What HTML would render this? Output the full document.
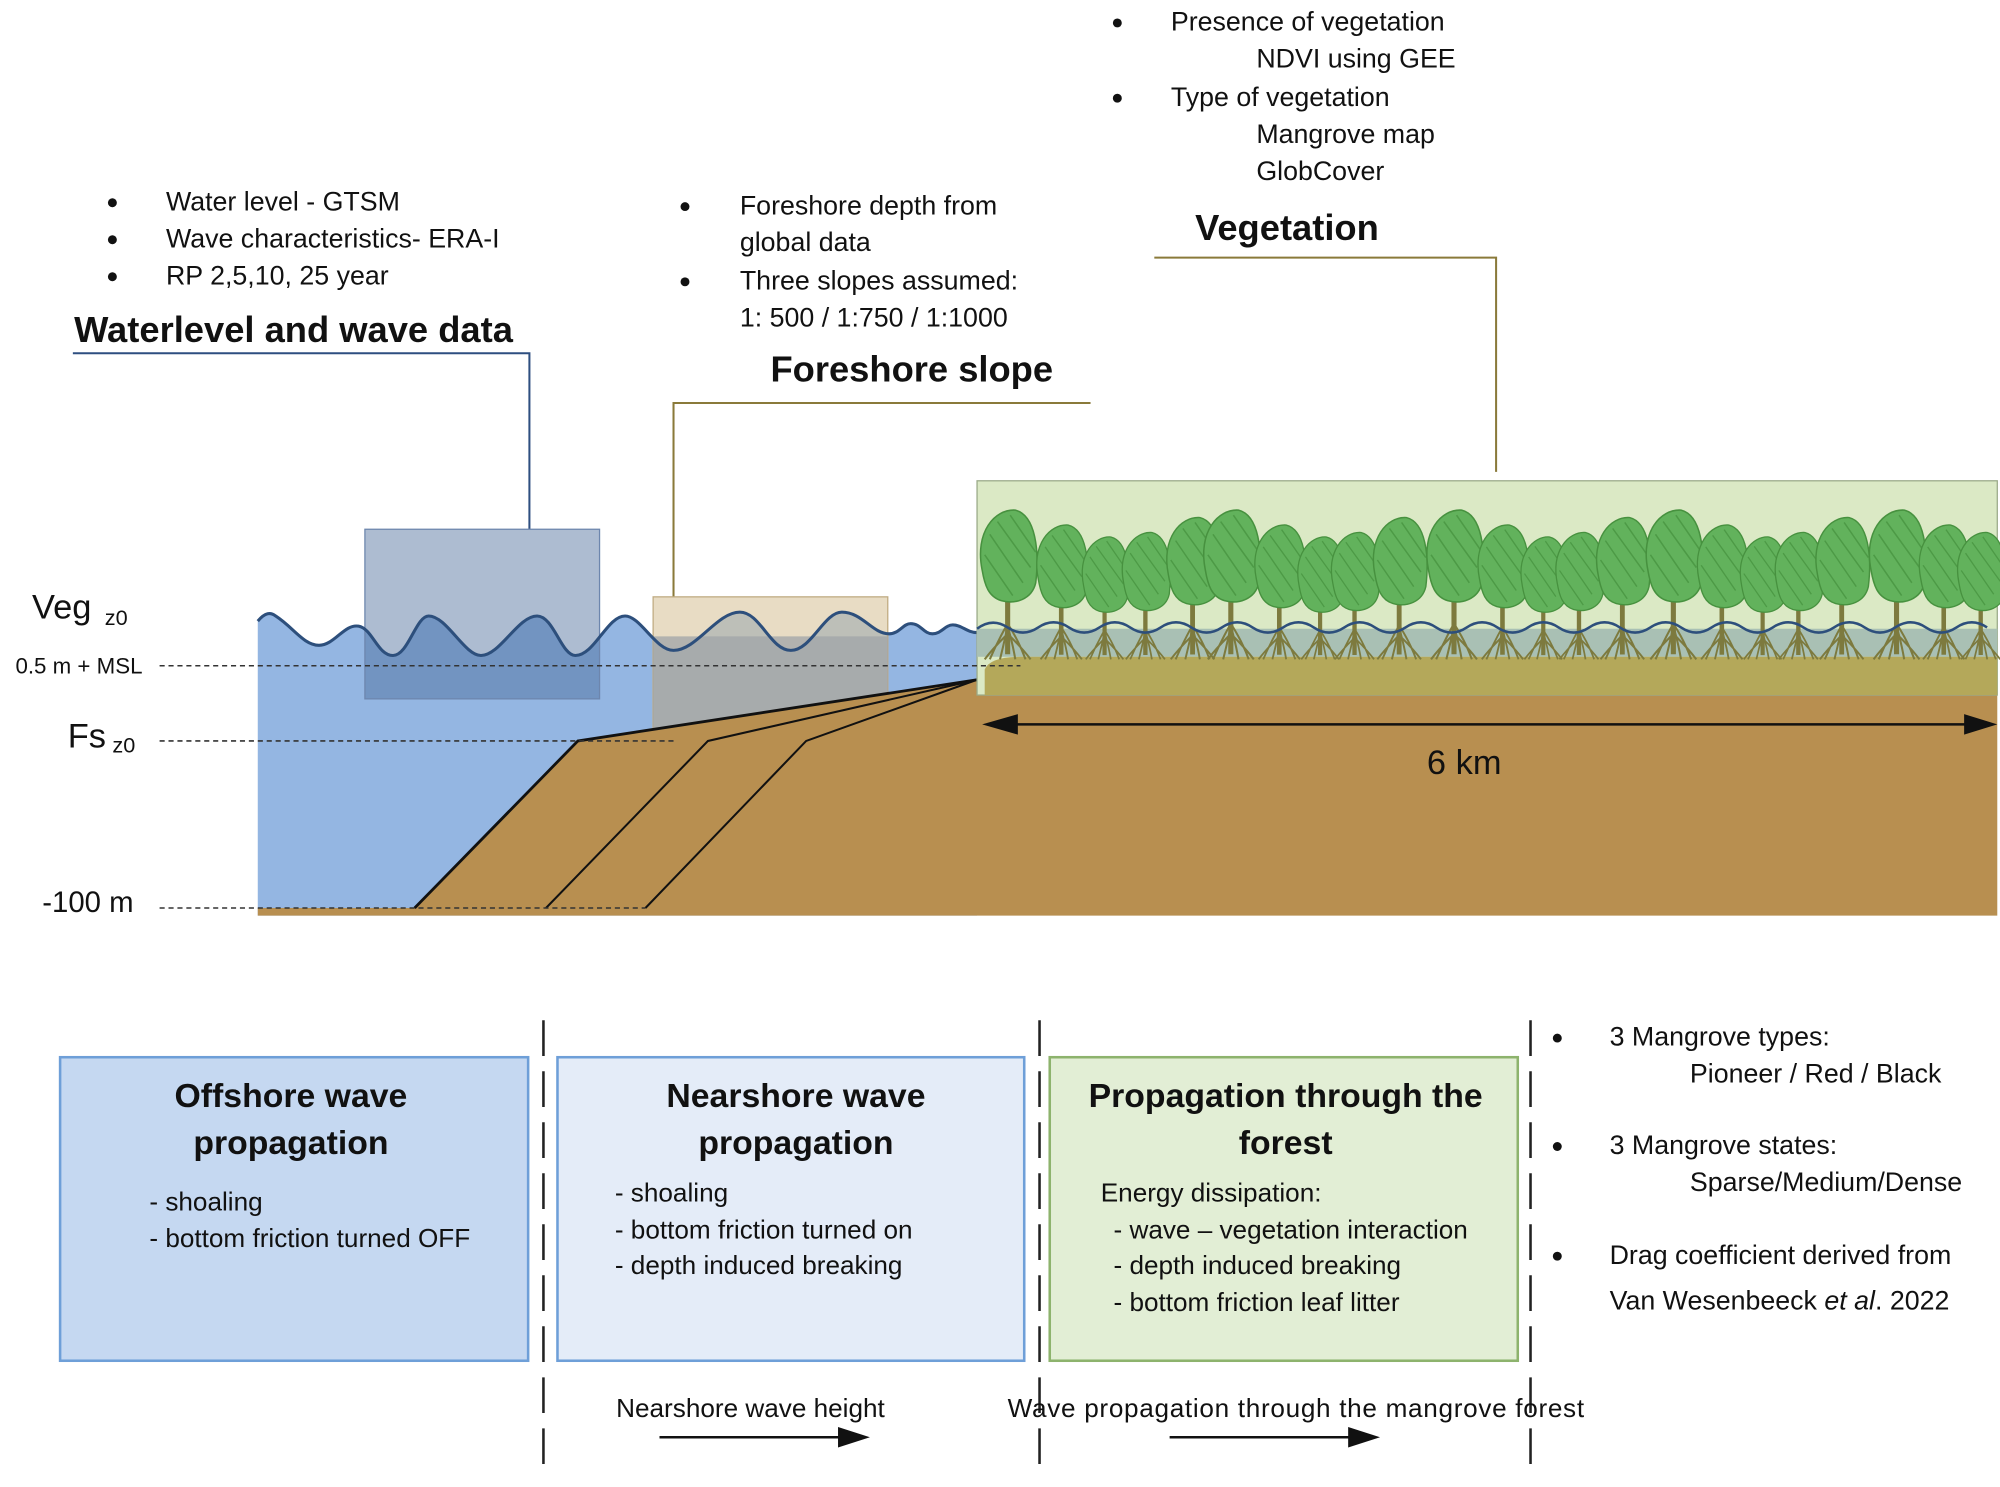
<!DOCTYPE html>
<html><head><meta charset="utf-8"><style>
html,body{margin:0;padding:0;background:#fff}
svg{display:block}
text{font-family:"Liberation Sans",sans-serif;fill:#111}
</style></head><body>
<svg width="2000" height="1487" viewBox="0 0 1568 1166" xmlns="http://www.w3.org/2000/svg">
<defs>
<g id="tree">
  <path d="M0,-48 L0,-4" stroke="#7d7a3e" stroke-width="4"/>
  <path d="M0,-28 Q-8,-14 -14,0 M0,-26 Q-3,-12 -6,0 M0,-26 Q4,-12 6,0 M0,-28 Q9,-14 14,0 M-2,-18 Q-12,-8 -18,0 M2,-18 Q12,-8 18,0" stroke="#7d7a3e" stroke-width="1.6" fill="none"/>
  <path d="M-20,-70 C-26,-100 -10,-118 6,-117 C22,-113 25,-85 22,-60 C19,-47 6,-43 -5,-46 C-15,-49 -18,-58 -20,-70Z" fill="#62b25c" stroke="#47913f" stroke-width="1.2"/>
  <path d="M-14,-98 L12,-60 M-8,-108 L18,-72 M-18,-82 L4,-50 M2,-113 L22,-84" stroke="#4d9a46" stroke-width="1.2"/>
</g>
</defs>

<!-- top texts -->
<g font-size="21">
<circle cx="88" cy="159" r="3.5" fill="#111"/><text x="130" y="165">Water level - GTSM</text>
<circle cx="88" cy="188" r="3.5" fill="#111"/><text x="130" y="194">Wave characteristics- ERA-I</text>
<circle cx="88" cy="217" r="3.5" fill="#111"/><text x="130" y="223">RP 2,5,10, 25 year</text>
<circle cx="537" cy="162" r="3.5" fill="#111"/><text x="580" y="168">Foreshore depth from</text>
<text x="580" y="197">global data</text>
<circle cx="537" cy="221" r="3.5" fill="#111"/><text x="580" y="227">Three slopes assumed:</text>
<text x="580" y="256">1: 500 / 1:750 / 1:1000</text>
<circle cx="876" cy="18" r="3.5" fill="#111"/><text x="918" y="24">Presence of vegetation</text>
<text x="985" y="53">NDVI using GEE</text>
<circle cx="876" cy="77" r="3.5" fill="#111"/><text x="918" y="83">Type of vegetation</text>
<text x="985" y="112">Mangrove map</text>
<text x="985" y="141">GlobCover</text>
</g>
<g font-size="28.5" font-weight="bold">
<text x="58" y="268">Waterlevel and wave data</text>
<text x="604" y="299">Foreshore slope</text>
<text x="937" y="188">Vegetation</text>
</g>
<path d="M57,277 H415 V415" stroke="#2e4f80" stroke-width="1.6" fill="none"/>
<path d="M855,316 H528 V468" stroke="#8a7a3a" stroke-width="1.6" fill="none"/>
<path d="M905,202 H1173 V370" stroke="#8a7a3a" stroke-width="1.6" fill="none"/>

<!-- water -->
<path d="M202,487 C208,480 212,480 216,483 C230,492 238,506 250,506 C262,506 270,489 281,491 C292,493 296,514 308,514 C320,514 326,483 336,483 C350,483 364,514 377,514 C392,514 406,483 421,483 C434,483 440,514 451,514 C466,514 476,483 490,483 C502,483 514,510 528,510 C546,510 562,480 580,480 C596,480 604,510 620,510 C636,510 646,480 660,480 C676,480 684,497 697,497 C705,497 708,489 714,489 C722,489 724,497 731,497 C738,497 741,490 747,490 C754,490 758,496 766,496 L766,718 L202,718Z" fill="#94b6e2"/>
<!-- boxes -->
<rect x="286" y="415" width="184" height="133" fill="#4a6a9a" fill-opacity="0.45" stroke="#6d86ad"/>
<rect x="512" y="468" width="184" height="133" fill="#d8c49c" fill-opacity="0.6" stroke="#c0ab82"/>
<rect x="512" y="499" width="184" height="82" fill="#a0a4a8" fill-opacity="0.75"/>
<!-- land -->
<path d="M202,712 L325,712 L453,581 L766,533 L1566,533 L1566,718 L202,718Z" fill="#b88f50"/>
<path d="M325,712 L453,581 L766,533" stroke="#111" stroke-width="2.2" fill="none"/>
<path d="M428,712 L555,581 L766,533 M506,712 L632,581 L766,533" stroke="#111" stroke-width="1.6" fill="none"/>
<!-- wave line -->
<path d="M202,487 C208,480 212,480 216,483 C230,492 238,506 250,506 C262,506 270,489 281,491 C292,493 296,514 308,514 C320,514 326,483 336,483 C350,483 364,514 377,514 C392,514 406,483 421,483 C434,483 440,514 451,514 C466,514 476,483 490,483 C502,483 514,510 528,510 C546,510 562,480 580,480 C596,480 604,510 620,510 C636,510 646,480 660,480 C676,480 684,497 697,497 C705,497 708,489 714,489 C722,489 724,497 731,497 C738,497 741,490 747,490 C754,490 758,496 766,496" stroke="#2d4f7c" stroke-width="2.4" fill="none"/>

<!-- forest -->
<rect x="766" y="377" width="800" height="168" fill="#dbe9c5" stroke="#9aaa88"/>
<rect x="766" y="493" width="800" height="22" fill="#a9c0b4"/>
<path d="M772,545 L772,525 Q776,515 800,515 L1566,515 L1566,545Z" fill="#b4a85a"/>
<g>
<use href="#tree" transform="translate(790,517)"/>
<use href="#tree" transform="translate(832,517) scale(0.9)"/>
<use href="#tree" transform="translate(866,517) scale(0.82)"/>
<use href="#tree" transform="translate(898,517) scale(0.85)"/>
<use href="#tree" transform="translate(935,517) scale(0.95)"/>
<use href="#tree" transform="translate(965,517)"/>
<use href="#tree" transform="translate(1003,517) scale(0.9)"/>
<use href="#tree" transform="translate(1035,517) scale(0.82)"/>
<use href="#tree" transform="translate(1062,517) scale(0.85)"/>
<use href="#tree" transform="translate(1097,517) scale(0.95)"/>
<use href="#tree" transform="translate(1140,517)"/>
<use href="#tree" transform="translate(1178,517) scale(0.9)"/>
<use href="#tree" transform="translate(1210,517) scale(0.82)"/>
<use href="#tree" transform="translate(1238,517) scale(0.85)"/>
<use href="#tree" transform="translate(1272,517) scale(0.95)"/>
<use href="#tree" transform="translate(1312,517)"/>
<use href="#tree" transform="translate(1350,517) scale(0.9)"/>
<use href="#tree" transform="translate(1382,517) scale(0.82)"/>
<use href="#tree" transform="translate(1410,517) scale(0.85)"/>
<use href="#tree" transform="translate(1444,517) scale(0.95)"/>
<use href="#tree" transform="translate(1487,517)"/>
<use href="#tree" transform="translate(1524,517) scale(0.9)"/>
<use href="#tree" transform="translate(1553,517) scale(0.85)"/>
</g>
<path d="M766,493 Q778,484 790,492 T814,492 T838,492 T862,492 T886,492 T910,492 T934,492 T958,492 T982,492 T1006,492 T1030,492 T1054,492 T1078,492 T1102,492 T1126,492 T1150,492 T1174,492 T1198,492 T1222,492 T1246,492 T1270,492 T1294,492 T1318,492 T1342,492 T1366,492 T1390,492 T1414,492 T1438,492 T1462,492 T1486,492 T1510,492 T1534,492 T1558,492" stroke="#2d4f7c" stroke-width="2" fill="none"/>

<!-- dashed levels -->
<g stroke="#333" stroke-width="1.2" stroke-dasharray="4,3">
<line x1="125" y1="522" x2="800" y2="522"/>
<line x1="125" y1="581" x2="530" y2="581"/>
<line x1="125" y1="712" x2="506" y2="712"/>
</g>
<text x="25" y="485" font-size="27">Veg</text><text x="82" y="490" font-size="17">z0</text>
<text x="12" y="528" font-size="17.5">0.5 m + MSL</text>
<text x="53" y="586" font-size="27">Fs</text><text x="88" y="590" font-size="17">z0</text>
<text x="33" y="715" font-size="23">-100 m</text>

<!-- 6 km arrow -->
<line x1="790" y1="568" x2="1545" y2="568" stroke="#111" stroke-width="2"/>
<path d="M770,568 L798,560 L798,576Z M1566,568 L1540,560 L1540,576Z" fill="#111"/>
<text x="1148" y="607" font-size="27" text-anchor="middle">6 km</text>

<!-- bottom dashed separators -->
<g stroke="#222" stroke-width="2" stroke-dasharray="28,12">
<line x1="426" y1="800" x2="426" y2="1160"/>
<line x1="815" y1="800" x2="815" y2="1160"/>
<line x1="1200" y1="800" x2="1200" y2="1160"/>
</g>
<rect x="47" y="829" width="367" height="238" fill="#c5d8f1" stroke="#6e9fd8" stroke-width="2"/>
<rect x="437" y="829" width="366" height="238" fill="#e4ecf8" stroke="#6e9fd8" stroke-width="2"/>
<rect x="823" y="829" width="367" height="238" fill="#e2eed5" stroke="#8db36d" stroke-width="2"/>
<g font-size="26.5" font-weight="bold" text-anchor="middle">
<text x="228" y="868">Offshore wave</text><text x="228" y="905">propagation</text>
<text x="624" y="868">Nearshore wave</text><text x="624" y="905">propagation</text>
<text x="1008" y="868">Propagation through the</text><text x="1008" y="905">forest</text>
</g>
<g font-size="20.5">
<text x="117" y="949">- shoaling</text>
<text x="117" y="978">- bottom friction turned OFF</text>
<text x="482" y="942">- shoaling</text>
<text x="482" y="971">- bottom friction turned on</text>
<text x="482" y="999">- depth induced breaking</text>
<text x="863" y="942">Energy dissipation:</text>
<text x="873" y="971">- wave – vegetation interaction</text>
<text x="873" y="999">- depth induced breaking</text>
<text x="873" y="1028">- bottom friction leaf litter</text>
<text x="483" y="1111">Nearshore wave height</text>
<text x="790" y="1111" textLength="452">Wave propagation through the mangrove forest</text>
</g>
<line x1="517" y1="1127" x2="662" y2="1127" stroke="#111" stroke-width="2"/>
<path d="M682,1127 L657,1119 L657,1135Z" fill="#111"/>
<line x1="917" y1="1127" x2="1062" y2="1127" stroke="#111" stroke-width="2"/>
<path d="M1082,1127 L1057,1119 L1057,1135Z" fill="#111"/>

<g font-size="21">
<circle cx="1221" cy="814" r="3.5" fill="#111"/><text x="1262" y="820">3 Mangrove types:</text>
<text x="1325" y="849">Pioneer / Red / Black</text>
<circle cx="1221" cy="899" r="3.5" fill="#111"/><text x="1262" y="905">3 Mangrove states:</text>
<text x="1325" y="934">Sparse/Medium/Dense</text>
<circle cx="1221" cy="985" r="3.5" fill="#111"/><text x="1262" y="991">Drag coefficient derived from</text>
<text x="1262" y="1027">Van Wesenbeeck <tspan font-style="italic">et al</tspan>. 2022</text>
</g>
</svg>
</body></html>
